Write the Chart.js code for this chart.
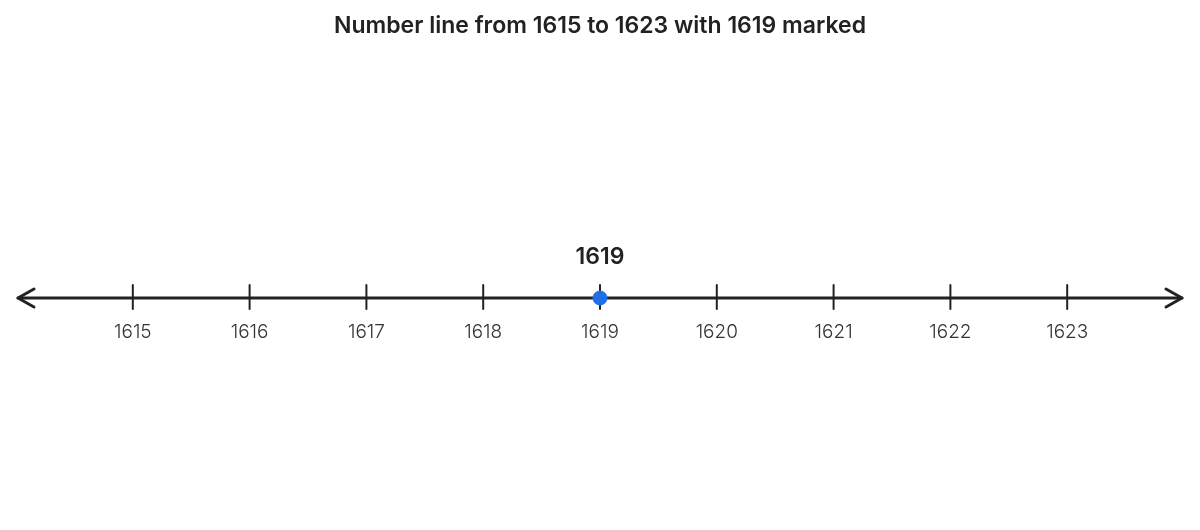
<!DOCTYPE html>
<html>
<head>
<meta charset="utf-8">
<script src="https://cdn.jsdelivr.net/npm/chart.js@4/dist/chart.umd.min.js"></script>
<style>
  html, body { margin: 0; padding: 0; background: #fff; }
  #wrap { width: 1200px; height: 530px; }
</style>
</head>
<body>
<div id="wrap"><canvas id="numberLine"></canvas></div>
<script>
// Données de la droite numérique
const tickValues = [1615, 1616, 1617, 1618, 1619, 1620, 1621, 1622, 1623];
const markedValues = [1619];
const markedLabels = ['1619'];
const titleText = 'Number line from 1615 to 1623 with 1619 marked';

const lineColor = '#222222';
const pointColor = '#1f6fe8';

// Plugin qui dessine la droite, les flèches, les graduations et les textes
const numberLinePlugin = {
    id: 'numberLine',
    beforeDatasetsDraw(chart) {
        const { ctx, chartArea, scales } = chart;
        const y = scales.y.getPixelForValue(0);
        ctx.save();
        ctx.strokeStyle = lineColor;
        ctx.lineWidth = 3;
        ctx.lineCap = 'round';
        ctx.lineJoin = 'round';
        ctx.beginPath();
        ctx.moveTo(chartArea.left, y);
        ctx.lineTo(chartArea.right, y);
        ctx.stroke();
        // flèches
        ctx.beginPath();
        ctx.moveTo(chartArea.left + 16, y - 9);
        ctx.lineTo(chartArea.left, y);
        ctx.lineTo(chartArea.left + 16, y + 9);
        ctx.moveTo(chartArea.right - 16, y - 9);
        ctx.lineTo(chartArea.right, y);
        ctx.lineTo(chartArea.right - 16, y + 9);
        ctx.stroke();
        // graduations
        ctx.lineWidth = 2;
        ctx.font = '300 19px Inter, "DejaVu Sans", sans-serif';
        ctx.fillStyle = '#333';
        ctx.textAlign = 'center';
        ctx.textBaseline = 'middle';
        tickValues.forEach(v => {
            const x = scales.x.getPixelForValue(v);
            ctx.beginPath();
            ctx.moveTo(x, y - 13);
            ctx.lineTo(x, y + 11);
            ctx.stroke();
            ctx.fillText(String(v), x, y + 34);
        });
        // étiquettes des points marqués
        ctx.font = '600 23px Inter, "DejaVu Sans", sans-serif';
        ctx.fillStyle = '#222';
        markedValues.forEach((v, i) => {
            ctx.fillText(markedLabels[i], scales.x.getPixelForValue(v), y - 41);
        });
        // titre
        ctx.font = '600 23px Inter, "DejaVu Sans", sans-serif';
        ctx.fillText(titleText, chart.width / 2, 26);
        ctx.restore();
    }
};

new Chart(document.getElementById('numberLine').getContext('2d'), {
    type: 'scatter',
    data: {
        datasets: [{
            data: markedValues.map(v => ({ x: v, y: 0 })),
            backgroundColor: pointColor,
            borderColor: pointColor,
            pointRadius: 7,
            pointHoverRadius: 7
        }]
    },
    options: {
        responsive: true,
        maintainAspectRatio: false,
        animation: false,
        layout: { padding: { left: 18, right: 18, top: 74, bottom: 0 } },
        scales: {
            x: { type: 'linear', min: 1614.017, max: 1623.983, display: false },
            y: { min: -1, max: 1, display: false }
        },
        plugins: {
            legend: { display: false },
            tooltip: { enabled: false }
        }
    },
    plugins: [numberLinePlugin]
});
</script>
</body>
</html>
